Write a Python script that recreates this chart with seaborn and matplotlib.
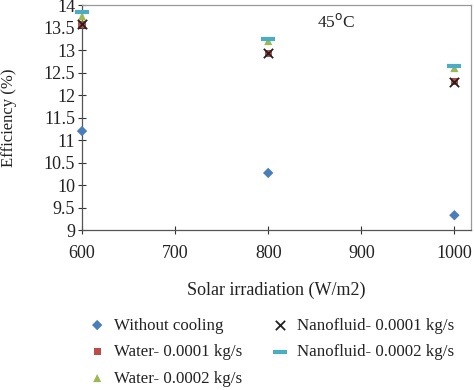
import matplotlib
matplotlib.use("Agg")
import matplotlib.pyplot as plt
import seaborn as sns
import pandas as pd

irradiation = [600, 800, 1000]
without_cooling = [11.2, 10.27, 9.33]
water_0001 = [13.57, 12.93, 12.30]
water_0002 = [13.75, 13.20, 12.60]
nano_0001 = [13.57, 12.93, 12.30]
nano_0002 = [13.85, 13.25, 12.65]

series = [
    ("Without cooling", without_cooling, "D", "#4a7ebb", 28),
    ("Water- 0.0001 kg/s", water_0001, "s", "#be4b48", 28),
    ("Water- 0.0002 kg/s", water_0002, "^", "#98b954", 34),
    ("Nanofluid- 0.0001 kg/s", nano_0001, "x", "#222222", 45),
    ("Nanofluid- 0.0002 kg/s", nano_0002, "_", "#4bacc6", 110),
]

sns.set_style("white")
plt.rcParams['font.family'] = ['Liberation Serif', 'DejaVu Serif']

fig = plt.figure(figsize=(4.74, 3.9), dpi=100)
ax = fig.add_axes([0.173, 0.41, 0.821, 0.577])

for name, vals, mk, col, sz in series:
    df = pd.DataFrame({"x": irradiation, "y": vals})
    kw = dict(edgecolor="none") if mk not in ("x", "_") else dict(linewidth=1.3 if mk == "x" else 3)
    sns.scatterplot(data=df, x="x", y="y", marker=mk, color=col, s=sz, ax=ax,
                    label=name, zorder=3, clip_on=False, **kw)

ax.set_xlim(600, 1018)
ax.set_ylim(9, 14)
ax.set_xticks([600, 700, 800, 900, 1000])
ax.set_yticks([9, 9.5, 10, 10.5, 11, 11.5, 12, 12.5, 13, 13.5, 14])
ax.set_yticklabels(["9", "9.5", "10", "10.5", "11", "11.5", "12", "12.5", "13", "13.5", "14"])
ax.tick_params(axis="both", bottom=True, left=True, direction="inout", length=6, width=0.8,
               colors="#333333", labelsize=13, labelcolor="#222222")
ax.tick_params(axis="x", pad=8)
ax.tick_params(axis="y", pad=2)
for side in ["left", "bottom"]:
    ax.spines[side].set_color("#555555")
    ax.spines[side].set_linewidth(0.9)
for side in ["top", "right"]:
    ax.spines[side].set_color("#999999")
    ax.spines[side].set_linewidth(0.9)

ax.set_xlabel("Solar irradiation (W/m2)", fontsize=13, color="#222222", labelpad=14)
ax.set_ylabel("Efficiency (%)", fontsize=12, color="#222222", labelpad=19)
ax.text(0.605, 0.925, "45$^{\\mathrm{o}}$C", transform=ax.transAxes, fontsize=12.5,
        color="#222222", ha="left", va="center")

ax.legend_.remove()
handles, labels = ax.get_legend_handles_labels()
fig.legend(handles, labels, loc="upper left", bbox_to_anchor=(0.155, 0.225), ncol=2,
           frameon=False, fontsize=12.2, handletextpad=0.5, columnspacing=1.7,
           labelspacing=0.62, handlelength=1.0, labelcolor="#222222")

fig.savefig("out.png", dpi=100)
